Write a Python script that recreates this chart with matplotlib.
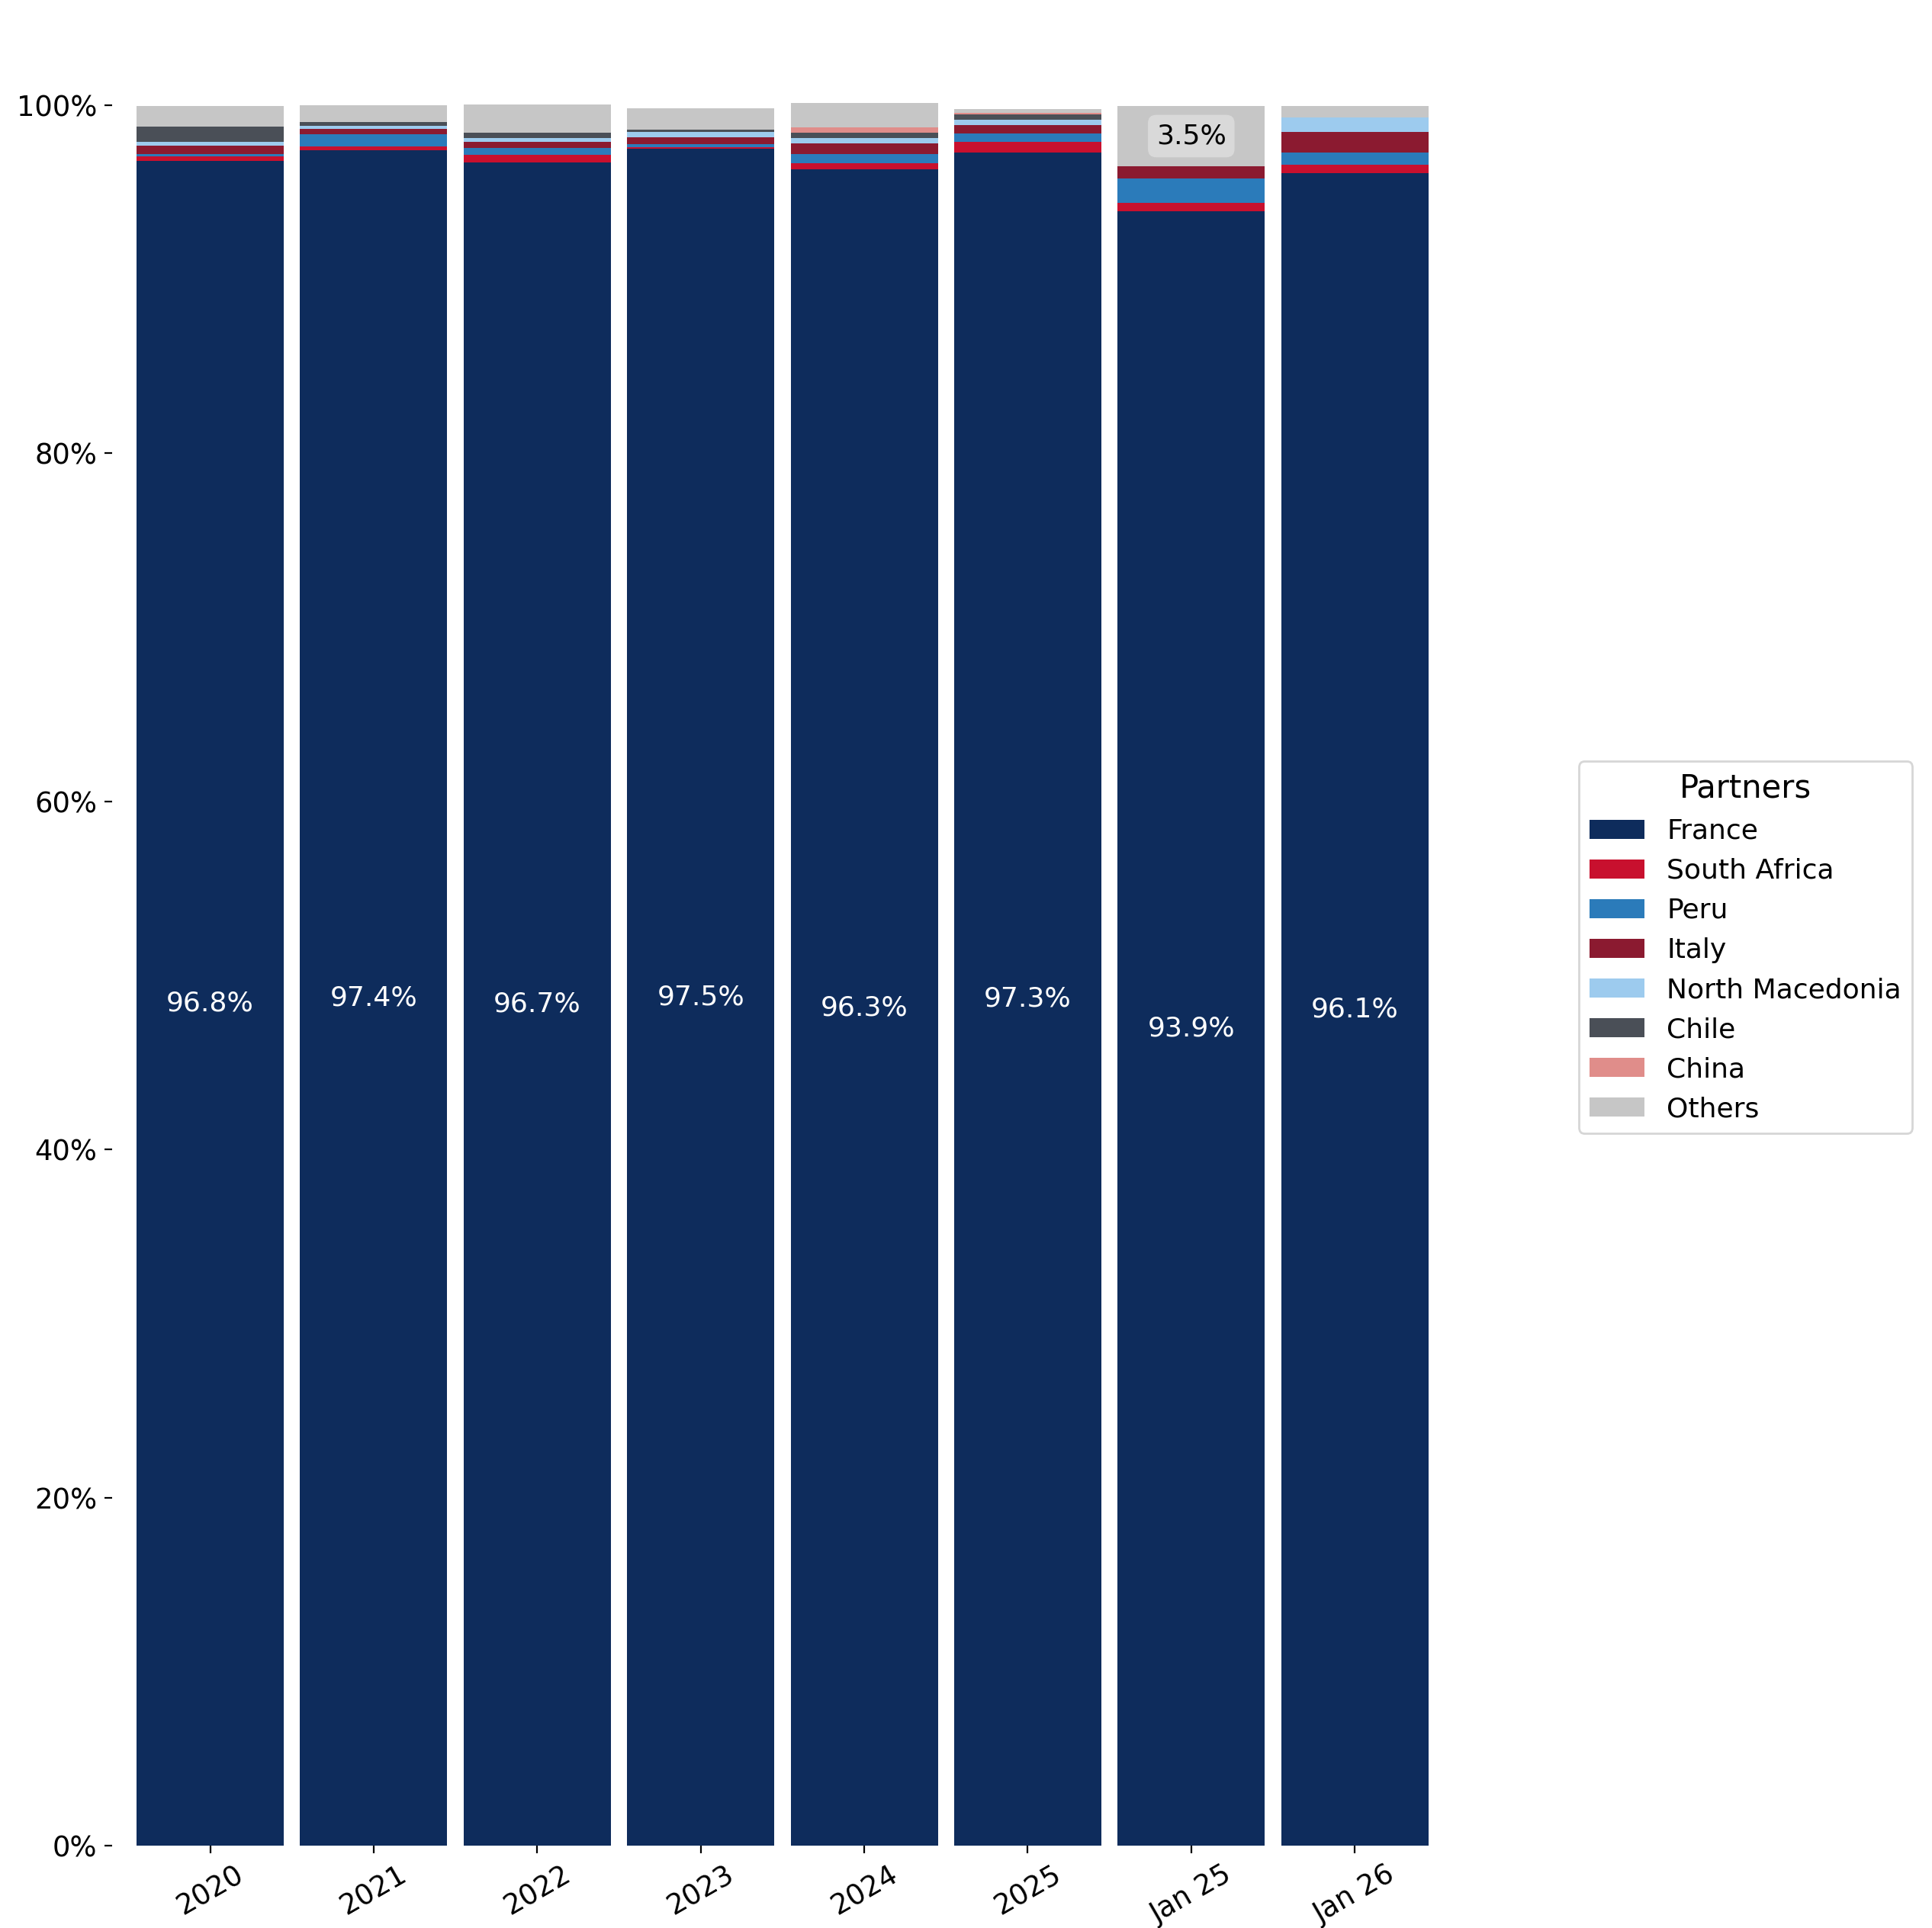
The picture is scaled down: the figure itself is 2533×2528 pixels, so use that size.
import matplotlib.pyplot as plt
import numpy as np

periods = ["2020", "2021", "2022", "2023", "2024", "2025", "Jan 25", "Jan 26"]

partners = ["France", "South Africa", "Peru", "Italy", "North Macedonia", "Chile", "China", "Others"]
colors = ["#0e2c5c", "#c8102e", "#2b7bba", "#8b1a30", "#9dcbee", "#4a4f57", "#e08d8a", "#c6c6c6"]

# shares in % per period
france = [96.8, 97.4, 96.7, 97.5, 96.3, 97.3, 93.9, 96.1]
south_africa = [0.26, 0.23, 0.44, 0.10, 0.39, 0.61, 0.48, 0.48]
peru = [0.13, 0.69, 0.39, 0.16, 0.53, 0.48, 1.40, 0.70]
italy = [0.48, 0.31, 0.39, 0.39, 0.57, 0.48, 0.70, 1.18]
north_macedonia = [0.22, 0.18, 0.18, 0.31, 0.31, 0.31, 0.0, 0.83]
chile = [0.88, 0.22, 0.31, 0.13, 0.31, 0.31, 0.0, 0.0]
china = [0.0, 0.0, 0.0, 0.0, 0.31, 0.09, 0.0, 0.0]
others = [1.18, 0.96, 1.65, 1.25, 1.40, 0.22, 3.5, 0.66]

series = [france, south_africa, peru, italy, north_macedonia, chile, china, others]

fig = plt.figure(figsize=(12.665, 12.64), dpi=200)
ax = fig.add_axes([0.058, 0.0427, 0.694, 0.9072])

x = np.arange(len(periods))
bottom = np.zeros(len(periods))
for name, vals, col in zip(partners, series, colors):
    vals = np.array(vals)
    ax.bar(x, vals, 0.9, bottom=bottom, color=col, label=name, clip_on=False)
    for i, v in enumerate(vals):
        if v >= 3:
            yc = bottom[i] + v / 2
            if name == "France":
                ax.text(x[i], yc, f"{v:.1f}%", ha="center", va="center",
                        color="white", fontsize=13)
            else:
                ax.text(x[i], yc, f"{v:.1f}%", ha="center", va="center",
                        color="black", fontsize=13,
                        bbox=dict(boxstyle="round,pad=0.3", fc="#d9d9d9", ec="none"))
    bottom += vals

ax.set_xlim(-0.6, len(periods) - 0.4)
ax.set_ylim(0, 100.5)
ax.set_yticks([0, 20, 40, 60, 80, 100])
ax.set_yticklabels([f"{t}%" for t in [0, 20, 40, 60, 80, 100]], fontsize=13.3)
ax.set_xticks(x)
ax.set_xticklabels(periods, rotation=30, fontsize=13.3)
for s in ax.spines.values():
    s.set_visible(False)

leg = ax.legend(title="Partners", loc="center left", bbox_to_anchor=(0.810, 0.5087),
                bbox_transform=fig.transFigure, fontsize=13, title_fontsize=15,
                frameon=True)
leg.get_frame().set_edgecolor("#cccccc")

fig.savefig("out.png", dpi=200)
